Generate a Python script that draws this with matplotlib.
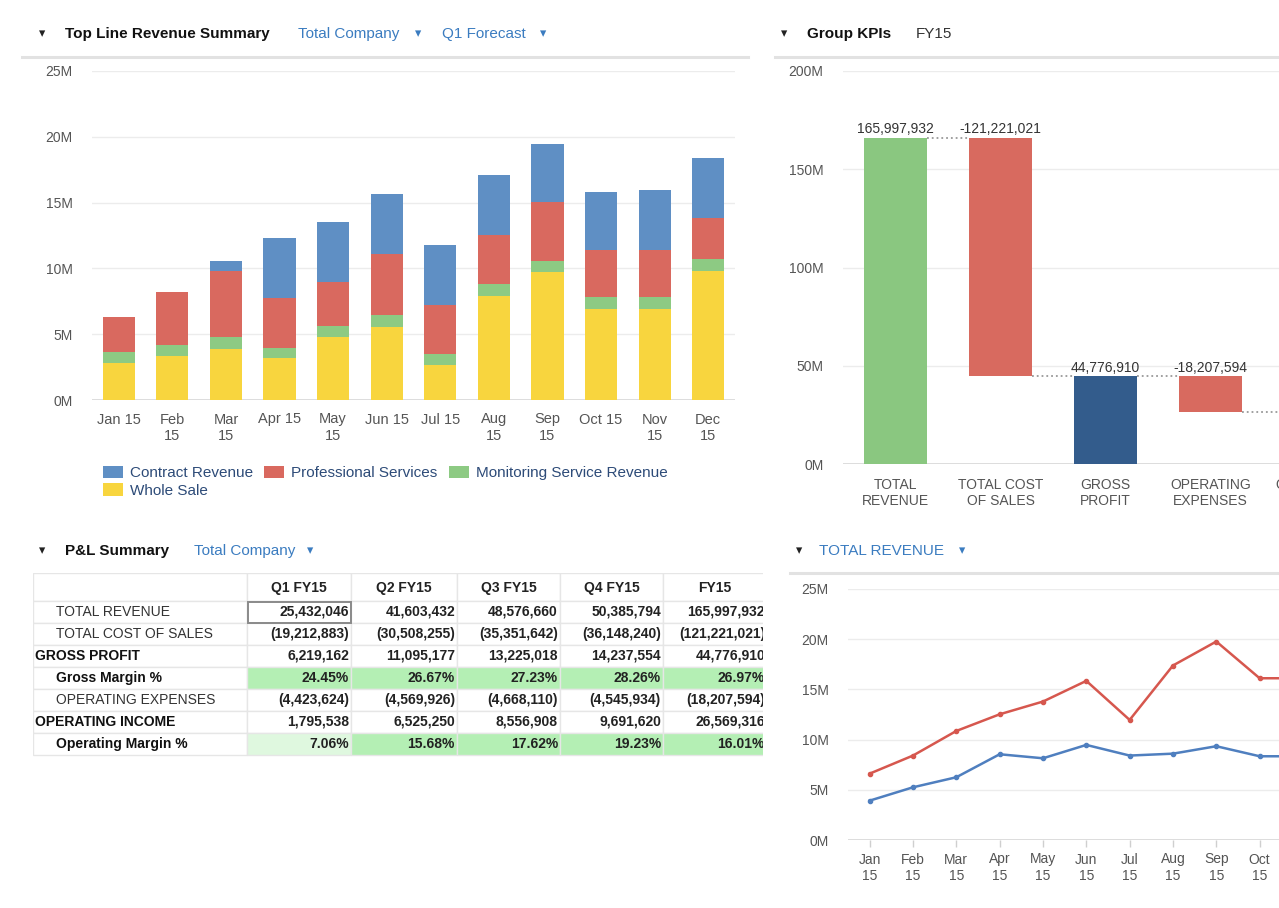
import numpy as np
import matplotlib
matplotlib.use('Agg')
import matplotlib.pyplot as plt
from matplotlib.lines import Line2D
from matplotlib.patches import Rectangle
from matplotlib.ticker import FuncFormatter

# ---- data ----
months = ['Jan 15', 'Feb 15', 'Mar 15', 'Apr 15', 'May 15', 'Jun 15',
          'Jul 15', 'Aug 15', 'Sep 15', 'Oct 15', 'Nov 15', 'Dec 15']
# labels as wrapped in the top-left chart
month_ticks_top = ['Jan 15', 'Feb\n15', 'Mar\n15', 'Apr 15', 'May\n15', 'Jun 15',
                   'Jul 15', 'Aug\n15', 'Sep\n15', 'Oct 15', 'Nov\n15', 'Dec\n15']

# monthly revenue by stream, in millions
whole_sale = [2.79, 3.34, 3.88, 3.19, 4.76, 5.57, 2.66, 7.93, 9.70, 6.94, 6.94, 9.80]
monitoring = [0.88, 0.84, 0.88, 0.76, 0.89, 0.86, 0.81, 0.88, 0.89, 0.91, 0.91, 0.89]
professional = [2.66, 4.00, 5.02, 3.77, 3.34, 4.64, 3.77, 3.75, 4.48, 3.52, 3.52, 3.16]
contract = [0.00, 0.00, 0.81, 4.56, 4.56, 4.56, 4.54, 4.56, 4.41, 4.46, 4.56, 4.52]

# TOTAL REVENUE trend (visible months only), in millions
trend_red = [6.61, 8.41, 10.86, 12.52, 13.79, 15.85, 11.96, 17.38, 19.77, 16.11, 16.11]
trend_blue = [3.92, 5.25, 6.25, 8.54, 8.14, 9.47, 8.41, 8.60, 9.34, 8.34, 8.34]

# P&L table
pl_cols = ['Q1 FY15', 'Q2 FY15', 'Q3 FY15', 'Q4 FY15', 'FY15']
pl_rows = ['TOTAL REVENUE', 'TOTAL COST OF SALES', 'GROSS PROFIT', 'Gross Margin %',
           'OPERATING EXPENSES', 'OPERATING INCOME', 'Operating Margin %']
total_revenue = [25432046, 41603432, 48576660, 50385794, 165997932]
cost_of_sales = [-19212883, -30508255, -35351642, -36148240, -121221021]
gross_profit = [6219162, 11095177, 13225018, 14237554, 44776910]
gross_margin = [24.45, 26.67, 27.23, 28.26, 26.97]
operating_expenses = [-4423624, -4569926, -4668110, -4545934, -18207594]
operating_income = [1795538, 6525250, 8556908, 9691620, 26569316]
operating_margin = [7.06, 15.68, 17.62, 19.23, 16.01]

kpi_labels = ['TOTAL\nREVENUE', 'TOTAL COST\nOF SALES', 'GROSS\nPROFIT',
              'OPERATING\nEXPENSES', 'OPERATING\nINCOME']
kpi_values = [total_revenue[-1], cost_of_sales[-1], gross_profit[-1],
              operating_expenses[-1], operating_income[-1]]
kpi_kind = ['total', 'delta', 'subtotal', 'delta', 'subtotal']

# ---- figure ----
W, H = 1279, 908
plt.rcParams['font.family'] = ['Liberation Sans', 'DejaVu Sans']
fig = plt.figure(figsize=(W / 100, H / 100), dpi=100)

GRID = '#ececec'
TICK = '#555555'
LINK = '#3b7cc0'


def px_axes(left, top, right, bottom):
    return fig.add_axes([left / W, 1 - bottom / H, (right - left) / W, (bottom - top) / H])


def fig_text(x, y, s, **kw):
    kw.setdefault('va', 'center')
    fig.text(x / W, 1 - y / H, s, **kw)


def fig_line(x0, x1, y, color='#e2e2e2', lw=2.2):
    fig.add_artist(Line2D([x0 / W, x1 / W], [1 - y / H, 1 - y / H], color=color, lw=lw))


def millions(v, pos):
    return f'{v / 1e6:.0f}M'


def style_axis(ax, pad):
    for s in ax.spines.values():
        s.set_visible(False)
    ax.tick_params(axis='y', length=0, pad=pad, labelsize=10, labelcolor=TICK)
    ax.tick_params(axis='x', length=0, pad=9, labelsize=10.5, labelcolor=TICK)
    ax.grid(axis='y', color=GRID, lw=1)
    ax.set_axisbelow(True)
    ax.yaxis.set_major_formatter(FuncFormatter(millions))
    ax.axhline(0, color='#dadada', lw=1.3, zorder=1)


def header(x, y, title):
    fig_text(x, y, '\u25be', fontsize=9, ha='center', color='#222222')
    fig_text(x + 23, y, title, fontsize=11, weight='bold', color='#111111')


# ---- panel headers ----
header(42, 34, 'Top Line Revenue Summary')
fig_text(298, 34, 'Total Company', fontsize=11, color=LINK)
fig_text(418, 34, '\u25be', fontsize=9, ha='center', color=LINK)
fig_text(442, 34, 'Q1 Forecast', fontsize=11, color=LINK)
fig_text(543, 34, '\u25be', fontsize=9, ha='center', color=LINK)
fig_line(22, 748, 57)

header(784, 34, 'Group KPIs')
fig_text(916, 34, 'FY15', fontsize=11, color='#333333')
fig_line(775, 1279, 57)

header(42, 551, 'P&L Summary')
fig_text(194, 551, 'Total Company', fontsize=11, color=LINK)
fig_text(310, 551, '\u25be', fontsize=9, ha='center', color=LINK)

fig_text(799, 551, '\u25be', fontsize=9, ha='center', color='#222222')
fig_text(819, 551, 'TOTAL REVENUE', fontsize=11, color=LINK)
fig_text(962, 551, '\u25be', fontsize=9, ha='center', color=LINK)
fig_line(790, 1279, 573)

# ---- top left: stacked revenue ----
ax1 = px_axes(92, 71, 735, 400)
style_axis(ax1, pad=14)
x = np.arange(len(months))
bottom = np.zeros(len(months))
bars = {}
for name, vals, color in [('Whole Sale', whole_sale, '#f8d53e'),
                          ('Monitoring Service Revenue', monitoring, '#8dca83'),
                          ('Professional Services', professional, '#d9695f'),
                          ('Contract Revenue', contract, '#5f8fc4')]:
    v = np.array(vals) * 1e6
    bars[name] = ax1.bar(x, v, 0.6, bottom=bottom, color=color, label=name, zorder=3)
    bottom += v
ax1.set_xlim(-0.5, 11.5)
ax1.set_ylim(0, 25e6)
ax1.set_yticks(np.arange(0, 26e6, 5e6))
ax1.set_xticks(x)
ax1.set_xticklabels(month_ticks_top)

order = ['Contract Revenue', 'Whole Sale', 'Professional Services', 'Monitoring Service Revenue']
fig.legend([bars[k] for k in order], order, ncol=3, loc='upper left',
           bbox_to_anchor=(103 / W, 1 - 466 / H), frameon=False, fontsize=11,
           labelcolor='#2d4b78', handlelength=1.3, handleheight=0.85,
           handletextpad=0.45, columnspacing=0.75, labelspacing=0.2,
           borderpad=0, borderaxespad=0)

# ---- top right: KPI waterfall ----
ax2 = px_axes(843, 71, 843 + 5 * 105, 464)
style_axis(ax2, pad=14)
running = 0
levels = []
for i, (val, kind) in enumerate(zip(kpi_values, kpi_kind)):
    if kind == 'delta':
        base, height, color = running + val, -val, '#d86a5f'
        top = running
        running += val
    else:
        base, height = 0, val
        color = '#8ac780' if kind == 'total' else '#335c8c'
        top = val
        running = val
    ax2.bar(i, height, 0.6, bottom=base, color=color, zorder=3)
    ax2.annotate(f'{val:,}', (i, top), xytext=(0, 1), textcoords='offset points',
                 ha='center', va='bottom', fontsize=10, color='#333333')
    levels.append(running)
for i in range(len(kpi_values) - 1):
    ax2.hlines(levels[i], i + 0.3, i + 0.7, colors='#999999', linestyles=':', lw=1.3, zorder=2)
ax2.set_xlim(-0.5, 4.5)
ax2.set_ylim(0, 200e6)
ax2.set_yticks(np.arange(0, 201e6, 50e6))
ax2.set_xticks(range(len(kpi_labels)))
ax2.set_xticklabels(kpi_labels, fontsize=10)
ax2.tick_params(axis='x', pad=10)

# ---- bottom right: total revenue trend ----
ax4 = px_axes(848, 589, 848 + 12 * 43.33, 840)
style_axis(ax4, pad=14)
xt = np.arange(len(trend_red))
ax4.plot(xt, np.array(trend_red) * 1e6, color='#d6574e', lw=1.8, marker='o', ms=3, zorder=3)
ax4.plot(xt, np.array(trend_blue) * 1e6, color='#4f7fbf', lw=1.8, marker='o', ms=3, zorder=3)
ax4.set_xlim(-0.5, 11.5)
ax4.set_ylim(0, 25e6)
ax4.set_yticks(np.arange(0, 26e6, 5e6))
ax4.set_xticks(x)
ax4.set_xticklabels([m.replace(' ', '\n') for m in months], fontsize=10)
ax4.tick_params(axis='x', length=5, color='#cfcfcf', width=1, pad=4)

# ---- bottom left: P&L table ----
axt = px_axes(33, 573, 763, 757)
axt.set_xlim(0, 730)
axt.set_ylim(184, 0)
axt.axis('off')
col_edges = [0, 214, 318, 424, 527, 630, 734]
row_h, head_h = 22, 28
indent = [True, True, False, True, True, False, True]
bold = [False, False, True, True, False, True, True]
table_rows = [total_revenue, cost_of_sales, gross_profit, gross_margin,
              operating_expenses, operating_income, operating_margin]
is_pct = [False, False, False, True, False, False, True]


def fmt(v, pct):
    if pct:
        return f'{v:.2f}%'
    return f'({-v:,})' if v < 0 else f'{v:,}'


edge = '#e6e6e6'
for c in range(len(col_edges) - 1):
    axt.add_patch(Rectangle((col_edges[c], 0), col_edges[c + 1] - col_edges[c], head_h,
                            facecolor='white', edgecolor=edge, lw=1))
    if c > 0:
        axt.text((col_edges[c] + col_edges[c + 1]) / 2, head_h / 2 + 1, pl_cols[c - 1],
                 ha='center', va='center', fontsize=10, weight='bold', color='#222222',
                 clip_on=True)

for r, label in enumerate(pl_rows):
    y0 = head_h + r * row_h
    axt.add_patch(Rectangle((0, y0), col_edges[1], row_h, facecolor='white',
                            edgecolor=edge, lw=1))
    axt.text(23 if indent[r] else 2, y0 + row_h / 2, label, ha='left', va='center',
             fontsize=10, weight='bold' if bold[r] else 'normal',
             color='#111111' if bold[r] else '#333333')
    for c, v in enumerate(table_rows[r]):
        x0, x1 = col_edges[c + 1], col_edges[c + 2]
        face = 'white'
        if is_pct[r]:
            face = '#dff8df' if v < 10 else '#b4efb4'
        axt.add_patch(Rectangle((x0, y0), x1 - x0, row_h, facecolor=face,
                                edgecolor=edge, lw=1))
        axt.text(x1 - 2, y0 + row_h / 2, fmt(v, is_pct[r]), ha='right', va='center',
                 fontsize=10, weight='bold', color='#222222', clip_on=True)

# selected cell
axt.add_patch(Rectangle((col_edges[1] + 0.5, head_h + 0.5), col_edges[2] - col_edges[1] - 1,
                        row_h - 1, fill=False, edgecolor='#8a8a8a', lw=1.4, zorder=5))

fig.savefig('out.png', dpi=100)
